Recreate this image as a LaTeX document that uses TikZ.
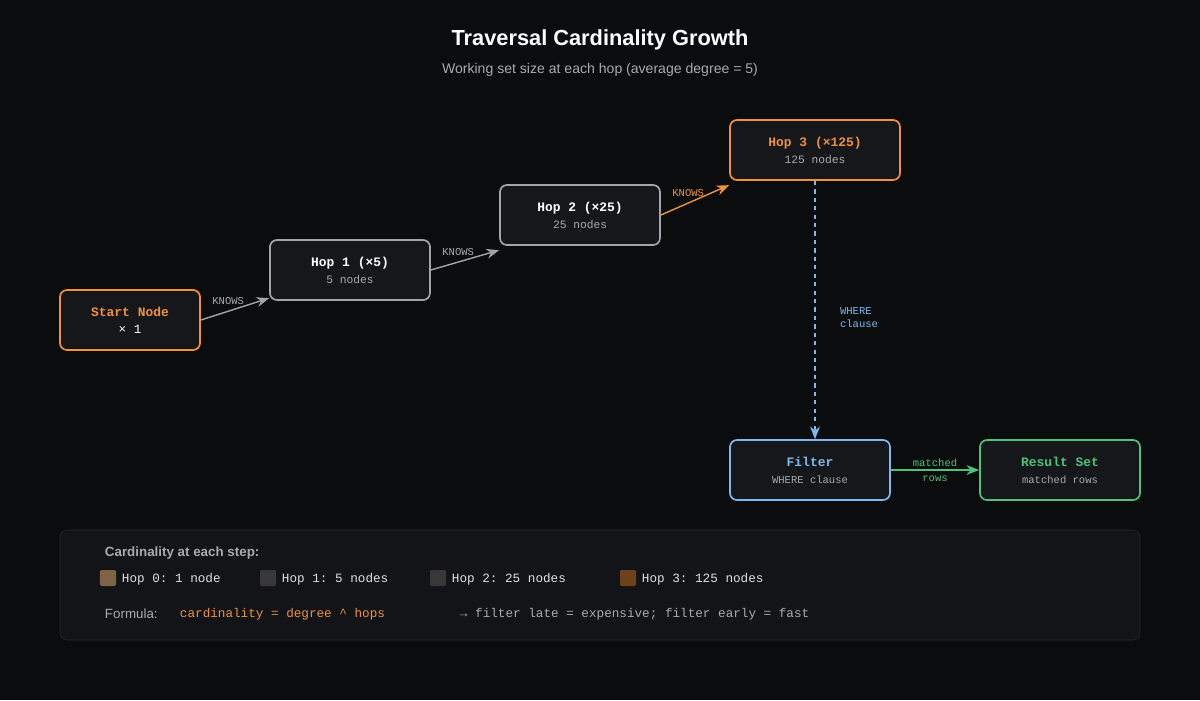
\documentclass[tikz,border=0pt]{standalone}
\usepackage{fontspec}
\setmainfont{Liberation Sans}
\setmonofont{Liberation Mono}
\definecolor{BgDark}{HTML}{0B0C0E}
\definecolor{BoxFill}{HTML}{16171B}
\definecolor{HopOrange}{HTML}{F0913C}
\definecolor{HopGray}{HTML}{A2A4A8}
\definecolor{WhereBlue}{HTML}{7DB9EE}
\definecolor{MatchGreen}{HTML}{4CC27A}
\definecolor{TextGray}{HTML}{A8AAAE}
\usetikzlibrary{arrows.meta, positioning, calc}

\tikzset{
  hop/.style={draw=HopGray, line width=1.2pt, rounded corners=5pt, fill=BoxFill,
    minimum width=4cm, minimum height=1.5cm, align=center, text=white,
    font=\ttfamily\fontsize{8}{12}\selectfont},
  edge/.style={-{Stealth[length=9pt,width=7pt]}, line width=1pt, HopGray},
  elabel/.style={font=\ttfamily\fontsize{7.5}{9}\selectfont, text=TextGray},
  swatch/.style={fill=#1, rounded corners=1pt, minimum size=0.4cm, inner sep=0pt},
  legtext/.style={font=\ttfamily\fontsize{9}{11}\selectfont, text=white!88!black, anchor=west}
}

\begin{document}
\begin{tikzpicture}[x=0.025cm, y=-0.025cm]
    \fill[BgDark] (0,0) rectangle (1200,700);
    \useasboundingbox (0,0) rectangle (1200,700);

    % title
    \node[font=\bfseries\fontsize{15.5}{18}\selectfont, text=white] (title) at (600,40) {Traversal Cardinality Growth};
    \node[font=\fontsize{10}{12}\selectfont, text=TextGray] (subtitle) at (600,70) {Working set size at each hop (average degree = 5)};

    % hops
    \node[hop, draw=HopOrange, minimum width=3.5cm] (start) at (130,320)
      {\textbf{\color{HopOrange}\fontsize{9.2}{12}\selectfont Start Node}\\{\fontsize{9}{12}\selectfont × 1}};
    \node[hop] (hop1) at (350,270)
      {\textbf{\fontsize{9.2}{12}\selectfont Hop 1 (×5)}\\{\color{TextGray}5 nodes}};
    \node[hop] (hop2) at (580,215)
      {\textbf{\fontsize{9.2}{12}\selectfont Hop 2 (×25)}\\{\color{TextGray}25 nodes}};
    \node[hop, draw=HopOrange, minimum width=4.25cm] (hop3) at (815,150)
      {\textbf{\color{HopOrange}\fontsize{9.2}{12}\selectfont Hop 3 (×125)}\\{\color{TextGray}125 nodes}};
    \node[hop, draw=WhereBlue] (filter) at (810,470)
      {\textbf{\color{WhereBlue}\fontsize{9.2}{12}\selectfont Filter}\\{\color{TextGray}\fontsize{7.5}{12}\selectfont WHERE clause}};
    \node[hop, draw=MatchGreen] (result) at (1060,470)
      {\textbf{\color{MatchGreen}\fontsize{9.2}{12}\selectfont Result Set}\\{\color{TextGray}\fontsize{7.5}{12}\selectfont matched rows}};

    % connectors
    \draw[edge] (start.east) -- ([yshift=-20]hop1.west) node[elabel, pos=0.4, above=1pt] (k1) {KNOWS};
    \draw[edge] (hop1.east) -- ([yshift=-25]hop2.west) node[elabel, pos=0.4, above=1pt] (k2) {KNOWS};
    \draw[edge, HopOrange] (hop2.east) -- ([yshift=-25]hop3.west) node[elabel, text=HopOrange, pos=0.4, above=1pt] (k3) {KNOWS};
    \draw[edge, WhereBlue, dashed] (hop3.south) -- (hop3.south |- filter.north)
      node[elabel, text=WhereBlue, pos=0.53, right=14pt, align=left] (wh) {WHERE\\clause};
    \draw[edge, MatchGreen] (filter.east) -- (result.west)
      node[elabel, text=MatchGreen, midway, align=center, font=\ttfamily\fontsize{7.5}{11}\selectfont] (mr) {matched\\rows};

    % legend
    \draw[fill=BoxFill!85!black, draw=white!16!black, rounded corners=5pt] (60,530) rectangle (1140,640);
    \node[anchor=west, font=\bfseries\fontsize{9.5}{11}\selectfont, text=TextGray] (legtitle) at (100,553) {Cardinality at each step:};
    \node[swatch=brown!55!black!85!white] (s0) at (108,578) {};
    \node[legtext] (l0) at (117,579) {Hop 0: 1 node};
    \node[swatch=white!22!black] (s1) at (268,578) {};
    \node[legtext] (l1) at (277,579) {Hop 1: 5 nodes};
    \node[swatch=white!22!black] (s2) at (438,578) {};
    \node[legtext] (l2) at (447,579) {Hop 2: 25 nodes};
    \node[swatch=HopOrange!45!black] (s3) at (628,578) {};
    \node[legtext] (l3) at (637,579) {Hop 3: 125 nodes};
    \node[anchor=west, font=\fontsize{9.5}{11}\selectfont, text=TextGray] (fml) at (100,614) {Formula:};
    \node[legtext, text=HopOrange] (fmlv) at (175,614) {cardinality = degree \^{} hops};
    \node[legtext, text=TextGray] (note) at (455,614) {→ filter late = expensive; filter early = fast};
\end{tikzpicture}
\end{document}
